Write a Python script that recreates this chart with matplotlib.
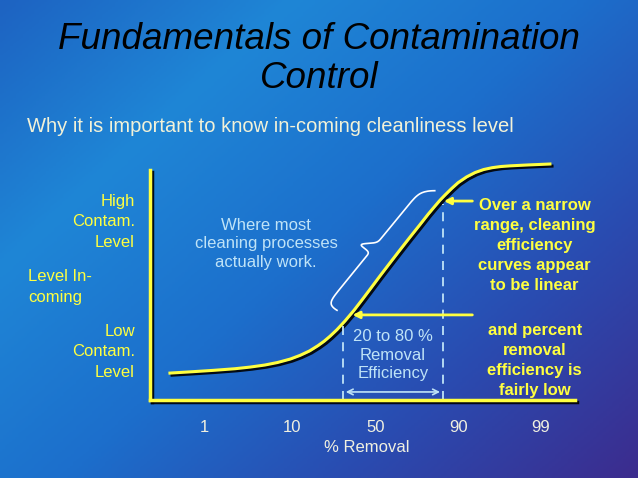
import numpy as np
import matplotlib.pyplot as plt
from matplotlib.colors import LinearSegmentedColormap
import matplotlib.patheffects as pe

# curve points (x in % of axis width, y in % of level)
curve_x = [4.7, 10.0, 15.0, 20.0, 23.5, 27.0, 30.0, 33.0, 35.3, 37.5, 39.5, 41.0, 42.4, 44.0, 45.9,
           48.0, 50.0, 52.0, 54.1, 56.5, 58.8, 61.0, 63.5, 65.5, 67.0, 68.3, 69.4, 71.0, 72.5,
           74.5, 76.5, 78.5, 80.5, 82.5, 84.7, 89.0, 94.1]
curve_y = [11.7, 12.3, 12.9, 13.6, 14.3, 15.2, 16.3, 17.8, 19.4, 21.3, 23.6, 25.6, 27.8, 30.6, 34.4,
           39.0, 43.8, 48.7, 53.9, 59.7, 65.2, 70.4, 76.2, 80.9, 84.2, 87.0, 89.1, 92.0, 94.5,
           97.0, 98.9, 100.2, 101.0, 101.5, 101.8, 102.2, 102.6]
tick_pos = [12.9, 33.4, 53.2, 72.5, 91.8]
tick_labels = ['1', '10', '50', '90', '99']
band = [45.4, 68.9]  # 20 % and 80 % removal positions

fig = plt.figure(figsize=(6.38, 4.78), dpi=100)

# background gradient
bg = fig.add_axes([0, 0, 1, 1])
yy, xx = np.mgrid[0:1:200j, 0:1:200j]
t = np.clip(0.55 * xx + 0.45 * yy, 0, 1)
cmap = LinearSegmentedColormap.from_list('bg', ['#1d63c2', '#1f86d6', '#1c6fcc', '#2a4bb0', '#3c2c8e'])
bg.imshow(t, cmap=cmap, aspect='auto', extent=[0, 1, 0, 1], origin='upper')
bg.axis('off')

fig.text(0.5, 0.918, 'Fundamentals of Contamination', ha='center', va='center',
         fontsize=26.5, style='italic', color='black', family='Liberation Sans')
fig.text(0.5, 0.835, 'Control', ha='center', va='center',
         fontsize=26.5, style='italic', color='black', family='Liberation Sans')
fig.text(0.043, 0.735, 'Why it is important to know in-coming cleanliness level', ha='left', va='center',
         fontsize=14.5, color='#f2f2d8', family='Liberation Sans')

yel = '#ffff40'
lab = dict(fontsize=12, color=yel, family='Liberation Sans', linespacing=1.45, va='center')
fig.text(135/638, 1-222/478, 'High\nContam.\nLevel', ha='right', **lab)
fig.text(28/638, 1-287/478, 'Level In-\ncoming', ha='left', **lab)
fig.text(135/638, 1-352/478, 'Low\nContam.\nLevel', ha='right', **lab)

ax = fig.add_axes([150/638, 78/478, 425/638, 230/478])
ax.set_xlim(0, 100)
ax.set_ylim(0, 100)
ax.patch.set_alpha(0)
for s in ['top', 'right']:
    ax.spines[s].set_visible(False)
for s in ['left', 'bottom']:
    ax.spines[s].set_color(yel)
    ax.spines[s].set_linewidth(2.5)
    ax.spines[s].set_path_effects([pe.SimpleLineShadow(offset=(1.5, -1.5), shadow_color='black', alpha=0.9), pe.Normal()])
ax.set_xticks([])
ax.set_yticks([])

shadow = [pe.SimpleLineShadow(offset=(1.5, -1.5), shadow_color='black', alpha=0.9), pe.Normal()]
ax.plot(curve_x, curve_y, color=yel, lw=2.2, clip_on=False, path_effects=shadow)

for i, t_lab in enumerate(tick_labels):
    ax.text(tick_pos[i], -12, t_lab, ha='center', va='center', fontsize=12, color='#f0f0e0',
            family='Liberation Sans')
ax.text(51, -20.5, '% Removal', ha='center', va='center', fontsize=12, color='#f0f0e0',
        family='Liberation Sans')

light = '#bfe3f7'
ax.plot([band[0], band[0]], [0, 34], color=light, lw=1.3, ls=(0, (5, 4)))
ax.plot([band[1], band[1]], [0, 85], color=light, lw=1.3, ls=(0, (5, 4)))
ax.annotate('', xy=(band[0], 3.5), xytext=(band[1], 3.5),
            arrowprops=dict(arrowstyle='<->', color=light, lw=1.2))
ax.text(57.2, 19.5, '20 to 80 %\nRemoval\nEfficiency', ha='center', va='center', fontsize=12,
        color=light, family='Liberation Sans', linespacing=1.3)
ax.text(27.3, 68, 'Where most\ncleaning processes\nactually work.', ha='center', va='center',
        fontsize=12, color=light, family='Liberation Sans', linespacing=1.3)

# yellow arrows
ax.annotate('', xy=(68.5, 86.5), xytext=(76.5, 86.5),
            arrowprops=dict(arrowstyle='-|>', color=yel, lw=2, mutation_scale=10))
ax.annotate('', xy=(47, 37), xytext=(76.5, 37),
            arrowprops=dict(arrowstyle='-|>', color=yel, lw=2, mutation_scale=10))

# curly brace along the curve
p0 = np.array([44.0, 39.0])
p1 = np.array([67.0, 91.0])
d = p1 - p0
n = np.array([-d[1], d[0]])
n = n / np.linalg.norm(n) * 4.5
s = np.linspace(0, 1, 200)
h = np.where(s < 0.5, s, 1 - s)
off = (1 - np.exp(-h * 40)) * 0.7 + np.exp(-((s - 0.5) ** 2) / 0.0008) * 0.7
pts = p0[None, :] + s[:, None] * d[None, :] + off[:, None] * n[None, :]
ax.plot(pts[:, 0], pts[:, 1], color='white', lw=1.2, clip_on=False)

bold = dict(ha='center', va='center', fontsize=12, color=yel, weight='bold',
            family='Liberation Sans', linespacing=1.42)
ax.text(90.5, 67, 'Over a narrow\nrange, cleaning\nefficiency\ncurves appear\nto be linear', **bold)
ax.text(90.5, 17, 'and percent\nremoval\nefficiency is\nfairly low', **bold)

fig.savefig('out.png', dpi=100)
